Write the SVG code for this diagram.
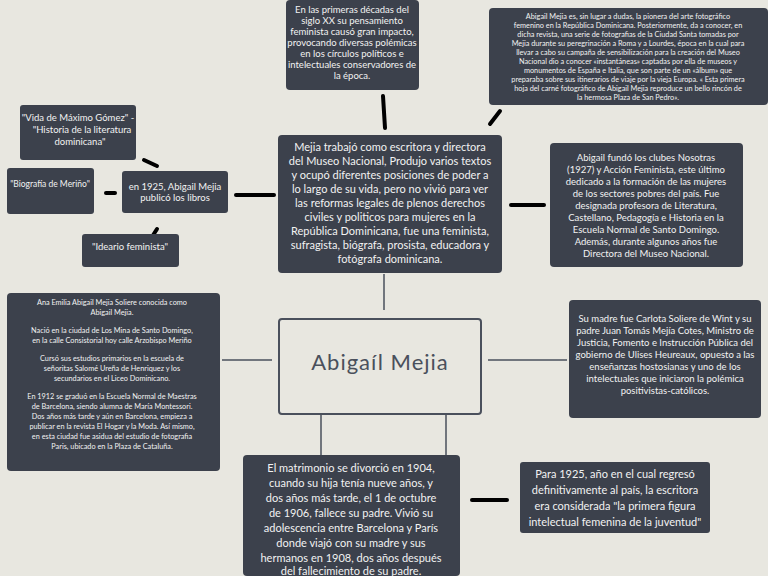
<svg xmlns="http://www.w3.org/2000/svg" width="768" height="576" viewBox="0 0 768 576">
<style>
.b{fill:#3c414c;}
.t{font-family:Lato,"Liberation Sans",sans-serif;fill:#f2f2f2;text-anchor:middle;}
.k{stroke:#000;stroke-width:4;stroke-linecap:round;}
.g{stroke:#4a505c;stroke-width:1.5;}
</style>
<rect width="768" height="576" fill="#e8e7e0"/>
<g id="connectors">
<line class="k" x1="383" y1="96" x2="385" y2="128"/>
<line class="k" x1="490" y1="124" x2="500" y2="111"/>
<line class="k" x1="511" y1="205" x2="544" y2="205"/>
<line class="k" x1="236" y1="195" x2="274" y2="195"/>
<line class="k" x1="106" y1="193" x2="115" y2="193"/>
<line class="k" x1="144" y1="160" x2="157" y2="166"/>
<line class="k" x1="157" y1="229" x2="150" y2="240"/>
<line class="g" x1="384" y1="274" x2="384" y2="310"/>
<line class="g" x1="222" y1="360" x2="272" y2="360"/>
<line class="g" x1="488" y1="360" x2="567" y2="360"/>
<line class="g" x1="321" y1="408" x2="321" y2="455"/>
<line class="g" x1="446" y1="408" x2="446" y2="455"/>
<line class="k" x1="472" y1="500" x2="507" y2="500"/>
</g>
<g id="main">
<rect x="279" y="319" width="202" height="95" rx="3" fill="#e8e7e0" stroke="#4a505c" stroke-width="2"/>
<text x="380" y="370" font-family="Lato,'Liberation Sans',sans-serif" font-size="22" fill="#4a505c" text-anchor="middle" letter-spacing="1">Abigaíl Mejia</text>
</g>
<g id="top-center">
<rect class="b" x="286" y="0" width="133" height="90" rx="4"/>
<text class="t" font-size="9.5"><tspan x="352" y="13">En las primeras décadas del</tspan><tspan x="352" y="24">siglo XX su pensamiento</tspan><tspan x="352" y="35">feminista causó gran impacto,</tspan><tspan x="352" y="46">provocando diversas polémicas</tspan><tspan x="352" y="57">en los círculos políticos e</tspan><tspan x="352" y="68">intelectuales conservadores de</tspan><tspan x="352" y="79">la época.</tspan></text>
</g>
<g id="top-right">
<rect class="b" x="489" y="8" width="279" height="97" rx="4"/>
<text class="t" font-size="7.3"><tspan x="628" y="19">Abigail Mejia es, sin lugar a dudas, la pionera del arte fotográfico</tspan><tspan x="628" y="28">femenino en la República Dominicana. Posteriormente, da a conocer, en</tspan><tspan x="628" y="37">dicha revista, una serie de fotografias de la Ciudad Santa tomadas por</tspan><tspan x="628" y="46">Mejia durante su peregrinación a Roma y a Lourdes, época en la cual para</tspan><tspan x="628" y="55">llevar a cabo su campaña de sensibilización para la creación del Museo</tspan><tspan x="628" y="64">Nacional dio a conocer «instantáneas» captadas por ella de museos y</tspan><tspan x="628" y="73">monumentos de España e Italia, que son parte de un «álbum» que</tspan><tspan x="628" y="82">preparaba sobre sus itinerarios de viaje por la vieja Europa. « Esta primera</tspan><tspan x="628" y="91">hoja del carné fotográfico de Abigail Mejia reproduce un bello rincón de</tspan><tspan x="628" y="100">la hermosa Plaza de San Pedro».</tspan></text>
</g>
<g id="vida">
<rect class="b" x="20" y="105" width="116" height="55" rx="3"/>
<text class="t" font-size="9.5"><tspan x="78" y="121">"Vida de Máximo Gómez" -</tspan><tspan x="82" y="133">"Historia de la literatura</tspan><tspan x="80" y="145">dominicana"</tspan></text>
</g>
<g id="biografia">
<rect class="b" x="7" y="168" width="87" height="46" rx="3"/>
<text class="t" font-size="8.5"><tspan x="50" y="187">"Biografía de Meriño"</tspan></text>
</g>
<g id="en1925">
<rect class="b" x="122" y="171" width="106" height="42" rx="3"/>
<text class="t" font-size="9.5"><tspan x="175" y="190">en 1925, Abigail Mejia</tspan><tspan x="175" y="201">publicó los libros</tspan></text>
</g>
<g id="ideario">
<rect class="b" x="82" y="234" width="97" height="33" rx="3"/>
<text class="t" font-size="9.5"><tspan x="130" y="250">"Ideario feminista"</tspan></text>
</g>
<g id="center-desc">
<rect class="b" x="278" y="135" width="224" height="138" rx="4"/>
<text class="t" font-size="11"><tspan x="390" y="151">Mejia trabajó como escritora y directora</tspan><tspan x="390" y="165">del Museo Nacional, Produjo varios textos</tspan><tspan x="390" y="179">y ocupó diferentes posiciones de poder a</tspan><tspan x="390" y="193">lo largo de su vida, pero no vivió para ver</tspan><tspan x="390" y="207">las reformas legales de plenos derechos</tspan><tspan x="390" y="221">civiles y politicos para mujeres en la</tspan><tspan x="390" y="235">República Dominicana, fue una feminista,</tspan><tspan x="390" y="249">sufragista, biógrafa, prosista, educadora y</tspan><tspan x="390" y="263">fotógrafa dominicana.</tspan></text>
</g>
<g id="fundo">
<rect class="b" x="550" y="143" width="193" height="124" rx="4"/>
<text class="t" font-size="9.5"><tspan x="646" y="161">Abigail fundó los clubes Nosotras</tspan><tspan x="646" y="173">(1927) y Acción Feminista, este último</tspan><tspan x="646" y="185">dedicado a la formación de las mujeres</tspan><tspan x="646" y="197">de los sectores pobres del país. Fue</tspan><tspan x="646" y="209">designada profesora de Literatura,</tspan><tspan x="646" y="221">Castellano, Pedagogía e Historia en la</tspan><tspan x="646" y="233">Escuela Normal de Santo Domingo.</tspan><tspan x="646" y="245">Además, durante algunos años fue</tspan><tspan x="646" y="257">Directora del Museo Nacional.</tspan></text>
</g>
<g id="ana">
<rect class="b" x="7" y="293" width="213" height="178" rx="4"/>
<text class="t" font-size="7.3"><tspan x="112" y="305">Ana Emilia Abigail Mejia Soliere conocida como</tspan><tspan x="112" y="315">Abigail Mejia.</tspan><tspan x="112" y="333">Nació en la ciudad de Los Mina de Santo Domingo,</tspan><tspan x="112" y="343">en la calle Consistorial hoy calle Arzobispo Meriño</tspan><tspan x="112" y="361">Cursó sus estudios primarios en la escuela de</tspan><tspan x="112" y="371">señoritas Salomé Ureña de Henriquez y los</tspan><tspan x="112" y="381">secundarios en el Liceo Dominicano.</tspan><tspan x="112" y="399">En 1912 se graduó en la Escuela Normal de Maestras</tspan><tspan x="112" y="409">de Barcelona, siendo alumna de María Montessori.</tspan><tspan x="112" y="419">Dos años más tarde y aún en Barcelona, empieza a</tspan><tspan x="112" y="429">publicar en la revista El Hogar y la Moda. Así mismo,</tspan><tspan x="112" y="439">en esta ciudad fue asidua del estudio de fotografia</tspan><tspan x="112" y="449">Paris, ubicado en la Plaza de Cataluña.</tspan></text>
</g>
<g id="madre">
<rect class="b" x="569" y="300" width="192" height="118" rx="4"/>
<text class="t" font-size="9.5"><tspan x="665" y="322">Su madre fue Carlota Soliere de Wint y su</tspan><tspan x="665" y="334">padre Juan Tomás Mejía Cotes, Ministro de</tspan><tspan x="665" y="346">Justicia, Fomento e Instrucción Pública del</tspan><tspan x="665" y="358">gobierno de Ulises Heureaux, opuesto a las</tspan><tspan x="665" y="370">enseñanzas hostosianas y uno de los</tspan><tspan x="665" y="382">intelectuales que iniciaron la polémica</tspan><tspan x="665" y="394">positivistas-católicos.</tspan></text>
</g>
<g id="matrimonio">
<rect class="b" x="243" y="455" width="217" height="121" rx="4"/>
<text class="t" font-size="11"><tspan x="351" y="472">El matrimonio se divorció en 1904,</tspan><tspan x="351" y="487">cuando su hija tenía nueve años, y</tspan><tspan x="351" y="502">dos años más tarde, el 1 de octubre</tspan><tspan x="351" y="517">de 1906, fallece su padre. Vivió su</tspan><tspan x="351" y="532">adolescencia entre Barcelona y París</tspan><tspan x="351" y="547">donde viajó con su madre y sus</tspan><tspan x="351" y="562">hermanos en 1908, dos años después</tspan><tspan x="351" y="575">del fallecimiento de su padre.</tspan></text>
</g>
<g id="para1925">
<rect class="b" x="520" y="462" width="190" height="71" rx="3"/>
<text class="t" font-size="11"><tspan x="615" y="478">Para 1925, año en el cual regresó</tspan><tspan x="615" y="494">definitivamente al país, la escritora</tspan><tspan x="615" y="510">era considerada "la primera figura</tspan><tspan x="615" y="526">intelectual femenina de la juventud"</tspan></text>
</g>
</svg>
